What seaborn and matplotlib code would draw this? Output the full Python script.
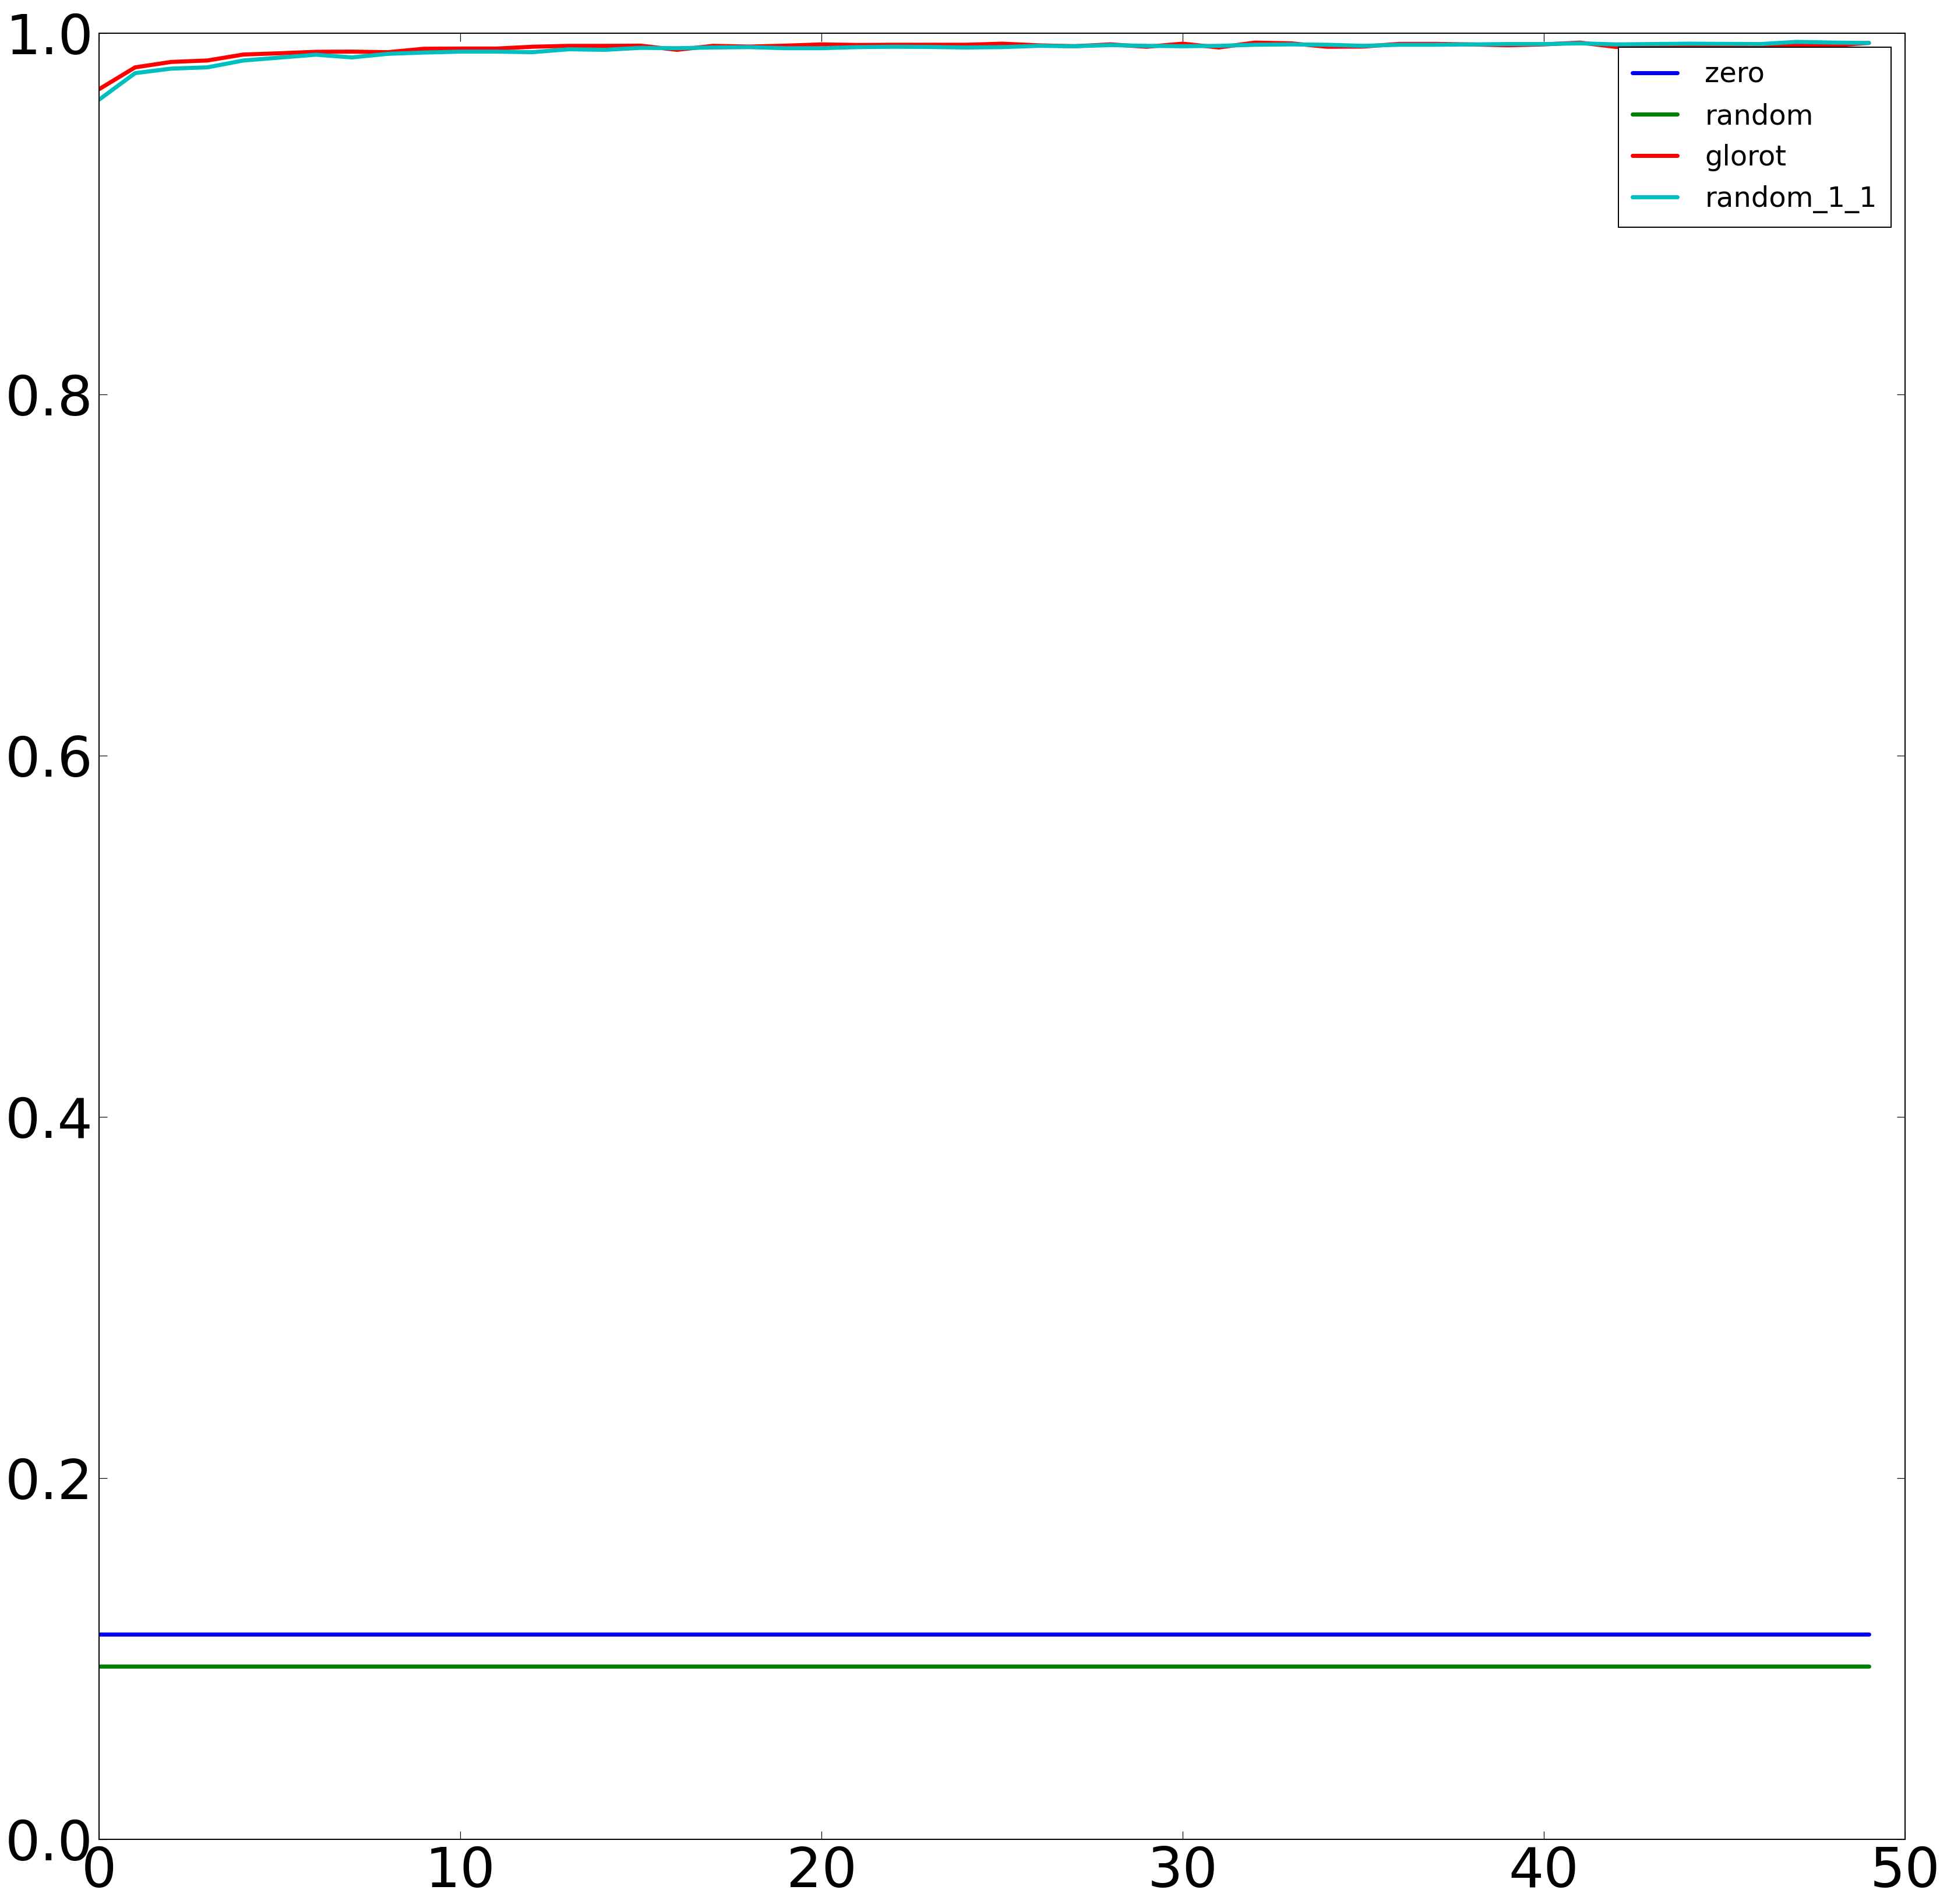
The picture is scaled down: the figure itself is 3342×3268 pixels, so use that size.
import numpy as np
import pandas as pd
import matplotlib
matplotlib.use("Agg")
import matplotlib.pyplot as plt
import seaborn as sns

# accuracy per epoch for each weight initialisation
epochs = list(range(50))

zero_acc = [0.1135, 0.1135, 0.1135, 0.1135, 0.1135, 0.1135, 0.1135, 0.1135, 0.1135, 0.1135,
            0.1135, 0.1135, 0.1135, 0.1135, 0.1135, 0.1135, 0.1135, 0.1135, 0.1135, 0.1135,
            0.1135, 0.1135, 0.1135, 0.1135, 0.1135, 0.1135, 0.1135, 0.1135, 0.1135, 0.1135,
            0.1135, 0.1135, 0.1135, 0.1135, 0.1135, 0.1135, 0.1135, 0.1135, 0.1135, 0.1135,
            0.1135, 0.1135, 0.1135, 0.1135, 0.1135, 0.1135, 0.1135, 0.1135, 0.1135, 0.1135]

random_acc = [0.0958, 0.0958, 0.0958, 0.0958, 0.0958, 0.0958, 0.0958, 0.0958, 0.0958, 0.0958,
              0.0958, 0.0958, 0.0958, 0.0958, 0.0958, 0.0958, 0.0958, 0.0958, 0.0958, 0.0958,
              0.0958, 0.0958, 0.0958, 0.0958, 0.0958, 0.0958, 0.0958, 0.0958, 0.0958, 0.0958,
              0.0958, 0.0958, 0.0958, 0.0958, 0.0958, 0.0958, 0.0958, 0.0958, 0.0958, 0.0958,
              0.0958, 0.0958, 0.0958, 0.0958, 0.0958, 0.0958, 0.0958, 0.0958, 0.0958, 0.0958]

glorot_acc = [0.9690, 0.9811, 0.9841, 0.9849, 0.9882, 0.9889, 0.9897, 0.9898, 0.9895, 0.9914,
              0.9915, 0.9915, 0.9925, 0.9930, 0.9930, 0.9931, 0.9908, 0.9930, 0.9926, 0.9931,
              0.9938, 0.9935, 0.9936, 0.9936, 0.9936, 0.9942, 0.9933, 0.9928, 0.9938, 0.9925,
              0.9942, 0.9921, 0.9948, 0.9944, 0.9925, 0.9926, 0.9941, 0.9941, 0.9938, 0.9933,
              0.9938, 0.9948, 0.9924, 0.9928, 0.9930, 0.9930, 0.9930, 0.9934, 0.9932, 0.9946]

random_1_1_acc = [0.9632, 0.9779, 0.9804, 0.9811, 0.9849, 0.9865, 0.9881, 0.9866, 0.9886, 0.9893,
                  0.9898, 0.9898, 0.9895, 0.9911, 0.9908, 0.9919, 0.9917, 0.9921, 0.9923, 0.9917,
                  0.9917, 0.9923, 0.9925, 0.9924, 0.9921, 0.9923, 0.9930, 0.9928, 0.9934, 0.9930,
                  0.9928, 0.9930, 0.9936, 0.9938, 0.9936, 0.9930, 0.9936, 0.9936, 0.9938, 0.9940,
                  0.9940, 0.9944, 0.9938, 0.9940, 0.9942, 0.9941, 0.9940, 0.9952, 0.9948, 0.9946]

labels = ['zero', 'random', 'glorot', 'random_1_1']
colors = ['#0000ff', '#008000', '#ff0000', '#00bfbf']

DPI = 100


def px(v):
    """pixels -> points"""
    return v * 72.0 / DPI


def main():
    sns.set_style("white")
    plt.rcParams['font.family'] = ['DejaVu Sans']
    plt.rcParams['text.color'] = 'black'
    plt.rcParams['xtick.color'] = 'black'
    plt.rcParams['ytick.color'] = 'black'
    plt.rcParams['axes.labelcolor'] = 'black'

    df = pd.concat([
        pd.DataFrame({'epoch': epochs, 'acc': vals, 'init': name})
        for name, vals in zip(labels, [zero_acc, random_acc, glorot_acc, random_1_1_acc])
    ])

    fig = plt.figure(figsize=(3342 / DPI, 3268 / DPI), dpi=DPI)
    ax = fig.add_axes([170 / 3342, 1 - 3157 / 3268, (3270 - 170) / 3342, (3157 - 57) / 3268])

    sns.lineplot(data=df, x='epoch', y='acc', hue='init', hue_order=labels,
                 palette=colors, linewidth=px(7), ax=ax, legend=False)

    ax.set_xlim(0, 50)
    ax.set_ylim(0.0, 1.0)
    ax.set_xticks(np.arange(0, 51, 10))
    ax.set_yticks(np.arange(0, 1.01, 0.2))
    ax.set_yticklabels([f'{v:.1f}' for v in np.arange(0, 1.01, 0.2)])
    ax.set_xlabel('')
    ax.set_ylabel('')

    ax.tick_params(axis='both', which='major', direction='in', length=px(14), width=px(1.2),
                   labelsize=px(95), top=True, right=True, bottom=True, left=True, pad=px(10),
                   color='black', labelcolor='black')
    for sp in ax.spines.values():
        sp.set_visible(True)
        sp.set_color('black')
        sp.set_linewidth(px(2))

    handles = [plt.Line2D([], [], color=c, linewidth=px(7)) for c in colors]
    leg = ax.legend(handles, labels, loc='upper right', fontsize=px(48), frameon=True,
                    fancybox=False, framealpha=1, edgecolor='black', borderpad=0.5,
                    labelspacing=0.5, handlelength=1.6, handletextpad=1.0,
                    borderaxespad=0.5)
    leg.get_frame().set_linewidth(px(2))

    fig.savefig('out.png', dpi=DPI, facecolor='white')
    plt.close(fig)


if __name__ == "__main__":
    main()
